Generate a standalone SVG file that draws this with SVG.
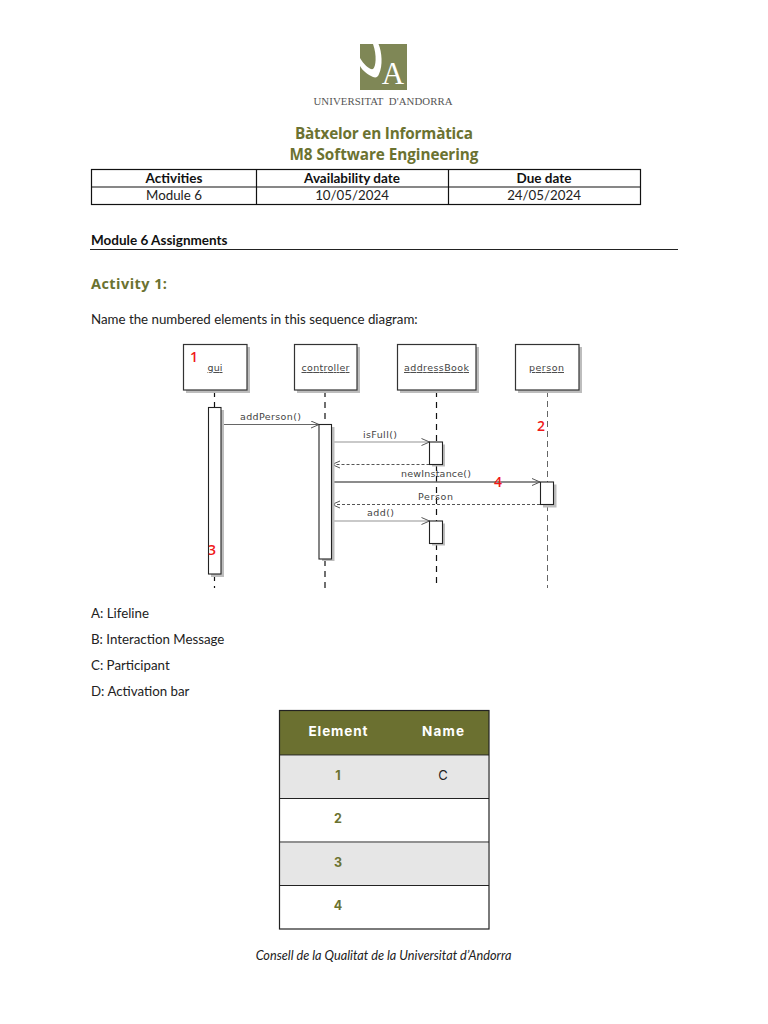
<svg xmlns="http://www.w3.org/2000/svg" width="768" height="1024" viewBox="0 0 768 1024">
<style>
.b{font-family:Lato,"Open Sans","Liberation Sans",sans-serif;font-size:13.3px;fill:#222}
.bb{font-family:Lato,"Open Sans","Liberation Sans",sans-serif;font-size:13.5px;font-weight:700;fill:#111}
.c{text-anchor:middle}
.h{font-family:"Open Sans","Noto Sans",sans-serif;font-weight:700;fill:#6b7230;text-anchor:middle;font-size:15.300px}
.u{font-family:"DejaVu Sans",sans-serif;font-size:9.500px;fill:#444;text-anchor:middle}
.un{text-decoration:underline}
.r{font-family:"Open Sans","Liberation Sans",sans-serif;font-size:14px;fill:#f01818;text-anchor:middle}
.tl{fill:none;stroke:#111;stroke-width:1.200}
.box{fill:#fff;stroke:#333;stroke-width:1.200}
.sh{fill:#bdbdbd}
.act{fill:#fff;stroke:#222;stroke-width:1.100}
.life{stroke:#111;stroke-width:1.200;stroke-dasharray:6 5;fill:none}
.msg{stroke:#666;stroke-width:1.200;fill:none}
.ret{stroke:#555;stroke-width:1;stroke-dasharray:3 2;fill:none}
.th{font-family:Inter,"Open Sans",sans-serif;font-weight:700;font-size:13.500px;fill:#fff;text-anchor:middle}
.tn{font-family:Inter,"Open Sans",sans-serif;font-weight:700;font-size:12.500px;fill:#6b7230;text-anchor:middle}
</style>
<defs>
<marker id="open" markerWidth="10" markerHeight="10" refX="9" refY="4" orient="auto" markerUnits="userSpaceOnUse"><path d="M1 0.500L9 4L1 7.500" fill="none" stroke="#555" stroke-width="1"/></marker>
</defs>
<rect width="768" height="1024" fill="#fff"/>
<g id="logo">
<rect x="360" y="44" width="47" height="46" fill="#7f8756"/>
<path d="M373 44L378.500 44C382 52 383 66 379 74C378 77 376 78 373 77C368 75 362 70 360 66V58C364 65 370 70 373 69C376 67 377 55 373 44Z" fill="#fff"/>
<text x="393" y="84" font-family="Liberation Serif,serif" font-size="31" fill="#fff" text-anchor="middle">A</text>
<text x="383" y="105" font-family="Liberation Serif,serif" font-size="10.800" fill="#555" text-anchor="middle" textLength="139" style="white-space:pre">UNIVERSITAT  D'ANDORRA</text>
</g>
<text class="h" x="384" y="139" textLength="178">Bàtxelor en Informàtica</text>
<text class="h" x="384" y="160" textLength="189">M8 Software Engineering</text>
<g id="dates-table">
<rect class="tl" x="91.500" y="169.500" width="549" height="35"/>
<path class="tl" d="M91.500 187H640.500M256.500 169.500V204.500M448.500 169.500V204.500"/>
<text class="bb c" x="174" y="183">Activities</text>
<text class="bb c" x="352" y="183">Availability date</text>
<text class="bb c" x="544" y="183">Due date</text>
<text class="b c" x="174" y="200">Module 6</text>
<text class="b c" x="352" y="200">10/05/2024</text>
<text class="b c" x="544" y="200">24/05/2024</text>
</g>
<text class="bb" x="91" y="244.500">Module 6 Assignments</text>
<path d="M90 249.500H678" stroke="#222" stroke-width="1.200"/>
<text x="91" y="289" font-family="'Open Sans',sans-serif" font-weight="700" font-size="14.500" fill="#6b7230" textLength="76">Activity 1:</text>
<text class="b" x="91" y="323.500">Name the numbered elements in this sequence diagram:</text>
<g id="connectors">
<path class="life" d="M214.500 391V408M214.500 575V588"/>
<path class="life" d="M325 391V425M325 560V588"/>
<path class="life" d="M436.500 391V442M436.500 465V521M436.500 544V588"/>
<path d="M547.500 391V482M547.500 505V588" fill="none" stroke="#666" stroke-width="1" stroke-dasharray="6 4"/>
<path class="msg" d="M221.500 424.500H319" marker-end="url(#open)"/>
<path class="msg" stroke-opacity=".7" d="M332 442H429.500" marker-end="url(#open)"/>
<path class="ret" d="M429.500 464.500H332" marker-end="url(#open)"/>
<path class="msg" style="stroke-width:1.600" d="M332 482H540" marker-end="url(#open)"/>
<path class="ret" d="M540 504.500H332" marker-end="url(#open)"/>
<path class="msg" stroke-opacity=".7" d="M332 521H429.500" marker-end="url(#open)"/>
<text class="u" x="270.500" y="420" textLength="61">addPerson()</text>
<text class="u" x="380" y="438" textLength="34">isFull()</text>
<text class="u" x="436" y="477" textLength="70">newInstance()</text>
<text class="u" x="435.500" y="500" textLength="35">Person</text>
<text class="u" x="380.500" y="516" textLength="27">add()</text>
</g>
<g id="gui">
<rect class="sh" x="186" y="347" width="64" height="46"/>
<rect class="box" x="183.500" y="344.500" width="63.500" height="45.500"/>
<text class="u un" x="215" y="371" textLength="15">gui</text>
<rect class="sh" x="211" y="410" width="13" height="167"/>
<rect class="act" x="208.500" y="407.500" width="12.500" height="166.500"/>
</g>
<g id="controller">
<rect class="sh" x="297" y="347" width="63" height="46"/>
<rect class="box" x="294.500" y="344.500" width="62.500" height="45.500"/>
<text class="u un" x="325.500" y="371" textLength="48">controller</text>
<rect class="sh" x="322" y="427" width="12.500" height="134"/>
<rect class="act" x="319" y="424.500" width="12.500" height="134.500"/>
</g>
<g id="addressBook">
<rect class="sh" x="400" y="347" width="79" height="46"/>
<rect class="box" x="397.500" y="344.500" width="78.500" height="45.500"/>
<text class="u un" x="436.500" y="371" textLength="65">addressBook</text>
<rect class="sh" x="432" y="444.500" width="13" height="22"/>
<rect class="act" x="429.500" y="442" width="13" height="22.500"/>
<rect class="sh" x="432" y="523.500" width="13" height="22"/>
<rect class="act" x="429.500" y="521" width="13" height="22.500"/>
</g>
<g id="person">
<rect class="sh" x="518" y="347" width="64" height="46"/>
<rect class="box" x="515.500" y="344.500" width="63.500" height="45.500"/>
<text class="u un" x="546.500" y="371" textLength="35">person</text>
<rect class="sh" x="543" y="484.500" width="13.500" height="23"/>
<rect class="act" x="540.500" y="482" width="13" height="22.500"/>
</g>
<g font-weight="600">
<text class="r" x="194" y="362">1</text>
<text class="r" x="541" y="431">2</text>
<text class="r" x="212" y="555">3</text>
<text class="r" x="498" y="487">4</text>
</g>
<text class="b" x="91" y="617.500">A: Lifeline</text>
<text class="b" x="91" y="643.500">B: Interaction Message</text>
<text class="b" x="91" y="669.500">C: Participant</text>
<text class="b" x="91" y="695.500">D: Activation bar</text>
<g id="answer-table">
<rect x="279" y="710.500" width="210" height="44.500" fill="#6b7030"/>
<rect x="280" y="756" width="208" height="42" fill="#e6e6e6"/>
<rect x="280" y="843" width="208" height="42" fill="#e6e6e6"/>
<path d="M279 755H489M279 798.500H489M279 842H489M279 885.500H489" stroke="#222" stroke-width="1"/>
<rect x="279.500" y="710.500" width="209.500" height="218.500" fill="none" stroke="#222" stroke-width="1.200"/>
<text class="th" x="338" y="735.500" textLength="59">Element</text>
<text class="th" x="443" y="735.500" textLength="42">Name</text>
<text class="tn" x="338" y="780">1</text>
<text x="443" y="780" font-family="Inter,'Open Sans',sans-serif" font-size="13" fill="#222" text-anchor="middle">C</text>
<text class="tn" x="338" y="823">2</text>
<text class="tn" x="338" y="866.500">3</text>
<text class="tn" x="338" y="910">4</text>
</g>
<text x="383.500" y="960" font-family="Lato,'Open Sans',sans-serif" font-size="12.700" font-style="italic" fill="#222" text-anchor="middle">Consell de la Qualitat de la Universitat d’Andorra</text>
</svg>
